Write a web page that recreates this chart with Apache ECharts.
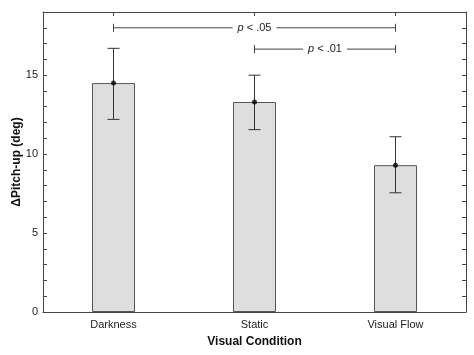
<!DOCTYPE html>
<html><head><meta charset="utf-8">
<script src="https://cdn.jsdelivr.net/npm/echarts@6/dist/echarts.min.js"></script>
<style>html,body{margin:0;padding:0;background:#fff}#c{width:474px;height:355px}</style>
</head><body><div id="c"></div>
<script>
const categories = ['Darkness', 'Static', 'Visual Flow'];
const means = [14.5, 13.3, 9.3];
const errUpper = [16.7, 15.0, 11.1];
const errLower = [12.2, 11.55, 7.55];
const yLabelStep = 5;
const sigFrom = [0, 1];
const sigTo = [2, 2];
const sigLevel = [18.0, 16.65];
const sigLabels = ['p < .05', 'p < .01'];

const FONT = 'Liberation Sans, Arial, sans-serif';
const AX = '#444';
const TXT = '#222';

const chart = echarts.init(document.getElementById('c'), null, {renderer: 'canvas'});

const errData = categories.map((c, i) => [i, errLower[i], errUpper[i]]);
const sigData = sigFrom.map((f, i) => [f, sigTo[i], sigLevel[i], i]);

function axisCommon() {
  return {
    axisLine: {show: true, onZero: false, lineStyle: {color: AX, width: 1}},
    axisTick: {show: true, inside: true, length: 4, lineStyle: {color: AX, width: 1}},
    splitLine: {show: false}
  };
}

const option = {
  animation: false,
  backgroundColor: '#fff',
  textStyle: {fontFamily: FONT},
  grid: {left: 43, right: 8, top: 12, bottom: 43, containLabel: false, outerBoundsMode: 'none'},
  xAxis: [
    Object.assign(axisCommon(), {
      type: 'category', data: categories, position: 'bottom', boundaryGap: true,
      axisTick: {show: true, inside: true, alignWithLabel: true, length: 4, lineStyle: {color: AX}},
      axisLabel: {margin: 7, fontSize: 11, color: TXT, fontFamily: FONT},
      name: 'Visual Condition', nameLocation: 'middle', nameGap: 24, nameMoveOverlap: false,
      nameTextStyle: {fontWeight: 'bold', fontSize: 12, color: '#111', fontFamily: FONT}
    }),
    Object.assign(axisCommon(), {
      type: 'category', data: categories, position: 'top', boundaryGap: true,
      axisTick: {show: true, inside: true, alignWithLabel: true, length: 4, lineStyle: {color: AX}},
      axisLabel: {show: false}
    })
  ],
  yAxis: [
    Object.assign(axisCommon(), {
      type: 'value', min: 0, max: 19, interval: 1, position: 'left',
      axisLabel: {margin: 5, fontSize: 11, color: TXT, fontFamily: FONT,
        formatter: v => (v % yLabelStep === 0 ? String(v) : '')},
      name: 'ΔPitch-up (deg)', nameLocation: 'middle', nameGap: 20, nameMoveOverlap: false,
      nameTextStyle: {fontWeight: 'bold', fontSize: 12, color: '#111', fontFamily: FONT}
    }),
    Object.assign(axisCommon(), {
      type: 'value', min: 0, max: 19, interval: 1, position: 'right',
      axisLabel: {show: false}
    })
  ],
  series: [
    {
      type: 'bar', xAxisIndex: 0, yAxisIndex: 0, data: means, barWidth: 43,
      itemStyle: {color: '#dedede', borderColor: '#555', borderWidth: 1}
    },
    {
      type: 'custom', xAxisIndex: 0, yAxisIndex: 0, data: errData, z: 5,
      renderItem: function (params, api) {
        const x = api.value(0);
        const lo = api.coord([x, api.value(1)]);
        const hi = api.coord([x, api.value(2)]);
        const hw = 6;
        const st = {stroke: '#333', lineWidth: 1};
        return {type: 'group', children: [
          {type: 'line', shape: {x1: hi[0], y1: hi[1], x2: lo[0], y2: lo[1]}, style: st},
          {type: 'line', shape: {x1: hi[0] - hw, y1: hi[1], x2: hi[0] + hw, y2: hi[1]}, style: st},
          {type: 'line', shape: {x1: lo[0] - hw, y1: lo[1], x2: lo[0] + hw, y2: lo[1]}, style: st}
        ]};
      }
    },
    {
      type: 'scatter', xAxisIndex: 0, yAxisIndex: 0, data: means, symbol: 'circle', symbolSize: 5, z: 6,
      itemStyle: {color: '#000'}
    },
    {
      type: 'custom', xAxisIndex: 0, yAxisIndex: 0, data: sigData, z: 5, clip: false,
      renderItem: function (params, api) {
        const a = api.coord([api.value(0), api.value(2)]);
        const b = api.coord([api.value(1), api.value(2)]);
        const idx = api.value(3);
        const st = {stroke: '#444', lineWidth: 1};
        const label = sigLabels[idx].replace(/^p/, '{i|p}');
        return {type: 'group', children: [
          {type: 'line', shape: {x1: a[0], y1: a[1], x2: b[0], y2: b[1]}, style: st},
          {type: 'line', shape: {x1: a[0], y1: a[1] - 4, x2: a[0], y2: a[1] + 4}, style: st},
          {type: 'line', shape: {x1: b[0], y1: b[1] - 4, x2: b[0], y2: b[1] + 4}, style: st},
          {type: 'text', z2: 10, style: {
            text: label, x: (a[0] + b[0]) / 2, y: a[1], align: 'center', verticalAlign: 'middle',
            fontSize: 11, fontFamily: FONT, fill: TXT, backgroundColor: '#fff', padding: [1, 5],
            rich: {i: {fontStyle: 'italic', fontSize: 11, fontFamily: FONT, fill: TXT}}
          }}
        ]};
      }
    }
  ]
};
chart.setOption(option);
</script>
</body></html>
